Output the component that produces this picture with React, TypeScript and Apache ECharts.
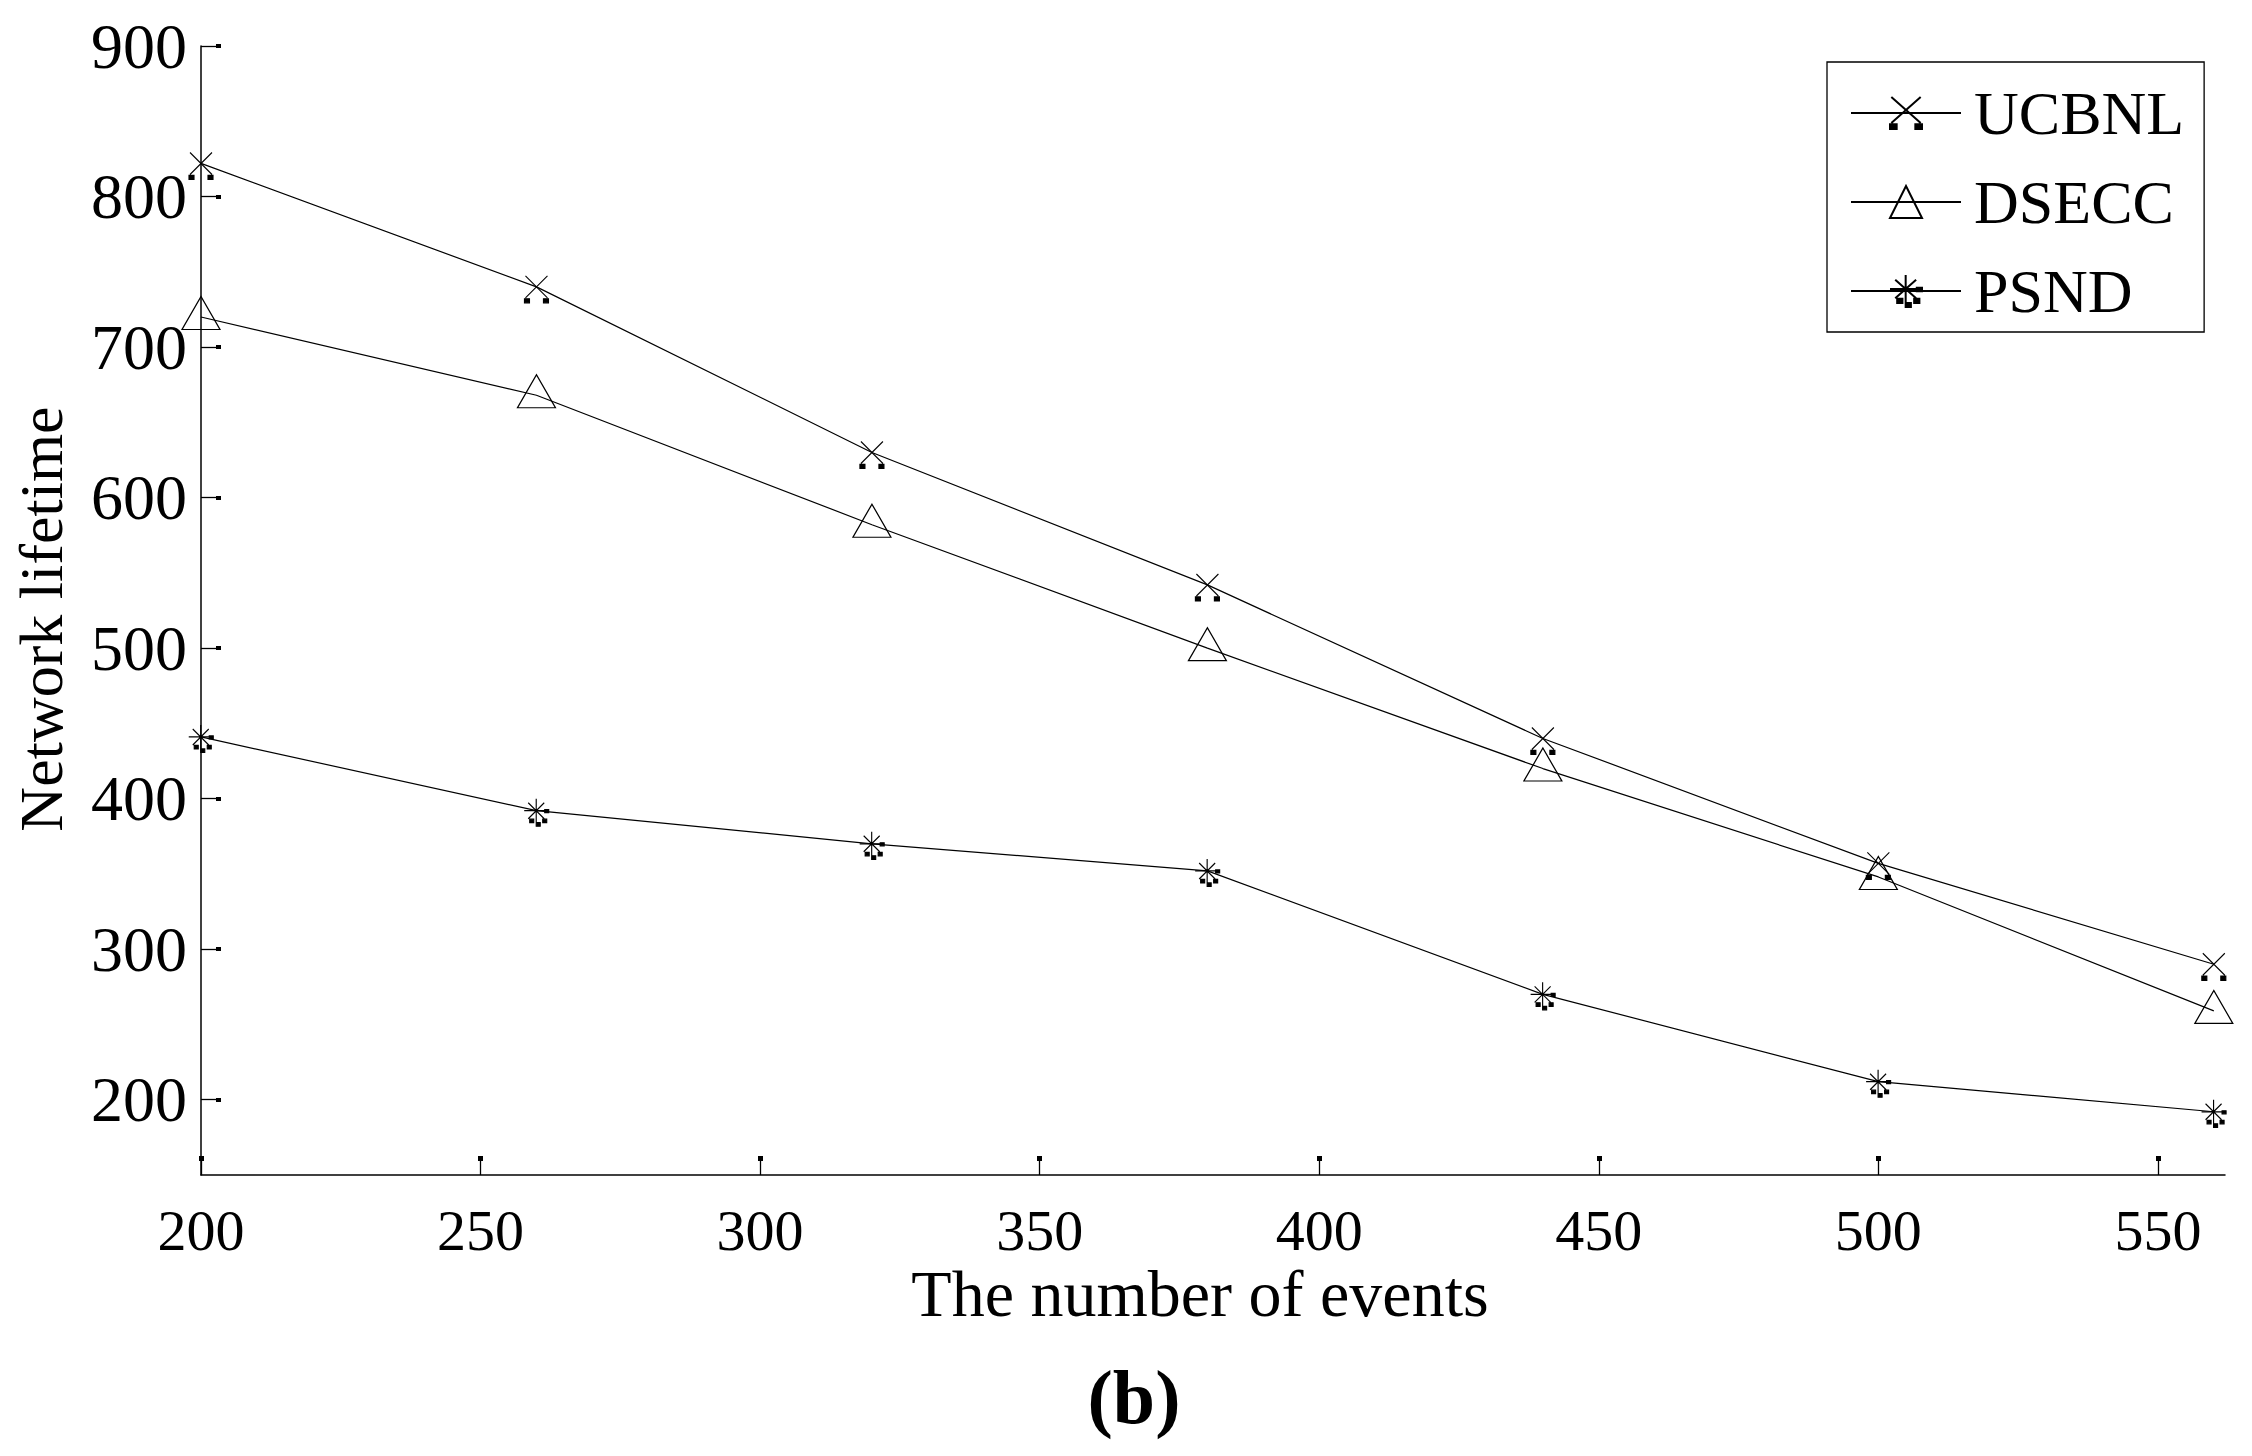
import React, { useEffect, useRef } from 'react';
import * as echarts from 'echarts';

// ---- data ----
const events = [200, 260, 320, 380, 440, 500, 560];
const ucbnl = [822, 740, 630, 542, 440, 357, 290];
const dsecc = [720, 668, 582, 500, 420, 348, 259];
const psnd = [441, 392, 370, 352, 270, 212, 192];
const seriesNames = ['UCBNL', 'DSECC', 'PSND'];
const xTicks = [200, 250, 300, 350, 400, 450, 500, 550];
const yTicks = [200, 300, 400, 500, 600, 700, 800, 900];
const xTitle = 'The number of events';
const yTitle = 'Network lifetime';
const panelLabel = '(b)';

const FONT = '"Liberation Serif", "Times New Roman", serif';

// marker shapes (with the small square artifacts of the original rendering)
const CROSS = 'path://M1,0L23,22M23,0L1,22M0,23h5v4h-5zM19,23h5v4h-5z';
const ASTER =
  'path://M0,12L24,12M12,0L12,24M4,4L20,20M20,4L4,20M5.5,20.5h4v3.5h-4zM12,24h4v3.5h-4zM18.5,20.5h4v3.5h-4zM20.5,11h4v3h-4z';

const pairs = (vals: number[]) => events.map((x, i) => [x, vals[i]]);

const X_MIN = 200;
const X_MAX = 562;
const Y_MIN = 150;
const Y_MAX = 900;

function buildOption(): any {
  const lineStyle = { color: '#000', width: 1.2 };
  return {
    animation: false,
    backgroundColor: '#fff',
    grid: { left: 201, top: 46, right: 27, bottom: 281, outerBoundsMode: 'none', containLabel: false },
    xAxis: [
      {
        type: 'value',
        min: X_MIN,
        max: X_MAX,
        axisLine: { show: true, lineStyle: { color: '#000', width: 1.5 } },
        axisTick: { show: true, inside: true, length: 18, lineStyle: { color: '#000', width: 1.3 }, customValues: xTicks },
        axisLabel: {
          show: true,
          customValues: xTicks,
          margin: 27,
          fontSize: 58,
          lineHeight: 56,
          fontFamily: FONT,
          color: '#000',
        },
        splitLine: { show: false },
      },
      {
        type: 'value',
        min: X_MIN,
        max: X_MAX,
        position: 'bottom',
        offset: -14,
        axisLine: { show: false },
        axisTick: { show: true, inside: true, length: 5, lineStyle: { color: '#000', width: 5 }, customValues: xTicks },
        axisLabel: { show: false },
        splitLine: { show: false },
      },
    ],
    yAxis: [
      {
        type: 'value',
        min: Y_MIN,
        max: Y_MAX,
        axisLine: { show: true, lineStyle: { color: '#000', width: 1.5 } },
        axisTick: { show: true, inside: true, length: 20, lineStyle: { color: '#000', width: 1.3 }, customValues: yTicks },
        axisLabel: {
          show: true,
          customValues: yTicks,
          margin: 14,
          fontSize: 64,
          fontFamily: FONT,
          color: '#000',
        },
        splitLine: { show: false },
      },
      {
        type: 'value',
        min: Y_MIN,
        max: Y_MAX,
        position: 'left',
        offset: -15,
        axisLine: { show: false },
        axisTick: { show: true, inside: true, length: 5, lineStyle: { color: '#000', width: 4 }, customValues: yTicks },
        axisLabel: { show: false },
        splitLine: { show: false },
      },
    ],
    legend: {
      orient: 'vertical',
      left: 1827,
      top: 62,
      data: seriesNames,
      borderColor: '#000',
      borderWidth: 1.3,
      borderRadius: 0,
      backgroundColor: '#fff',
      padding: [20, 20, 10, 23],
      itemWidth: 110,
      itemHeight: 40,
      itemGap: 27,
      textStyle: { fontSize: 62, lineHeight: 62, fontFamily: FONT, color: '#000', padding: [0, 0, 0, 8] },
    },
    series: [
      {
        name: seriesNames[0],
        type: 'line',
        data: pairs(ucbnl),
        symbol: CROSS,
        symbolSize: [24, 27],
        symbolOffset: [0, 2.5],
        showAllSymbol: true,
        lineStyle,
        itemStyle: { color: '#000', borderColor: '#000', borderWidth: 1.2 },
        emphasis: { disabled: true },
      },
      {
        name: seriesNames[1],
        type: 'line',
        data: pairs(dsecc),
        symbol: 'triangle',
        symbolSize: [38, 33],
        symbolOffset: [0, -4],
        showAllSymbol: true,
        lineStyle,
        itemStyle: { color: 'transparent', borderColor: '#000', borderWidth: 1.2 },
        emphasis: { disabled: true },
      },
      {
        name: seriesNames[2],
        type: 'line',
        data: pairs(psnd),
        symbol: ASTER,
        symbolSize: [24.5, 27.5],
        symbolOffset: [0, 1.75],
        showAllSymbol: true,
        lineStyle,
        itemStyle: { color: '#000', borderColor: '#000', borderWidth: 1.2 },
        emphasis: { disabled: true },
      },
    ],
    graphic: [
      {
        type: 'text',
        x: 41,
        y: 619,
        rotation: Math.PI / 2,
        style: {
          text: yTitle,
          fontSize: 62,
          fontFamily: FONT,
          fill: '#000',
          align: 'center',
          verticalAlign: 'middle',
        },
      },
      {
        type: 'text',
        x: 1200,
        y: 1293,
        style: {
          text: xTitle,
          fontSize: 66,
          lineHeight: 60,
          fontFamily: FONT,
          fill: '#000',
          align: 'center',
          verticalAlign: 'middle',
        },
      },
      {
        type: 'text',
        x: 1134,
        y: 1397,
        style: {
          text: panelLabel,
          fontSize: 76,
          fontWeight: 'bold',
          fontFamily: FONT,
          fill: '#000',
          align: 'center',
          verticalAlign: 'middle',
        },
      },
    ],
  };
}

export default function App() {
  const ref = useRef<HTMLDivElement>(null);
  useEffect(() => {
    if (!ref.current) return;
    const chart = echarts.init(ref.current, null, { renderer: 'svg' });
    chart.setOption(buildOption());
    return () => chart.dispose();
  }, []);
  return (
    <div
      ref={ref}
      style={{ position: 'absolute', left: 0, top: 0, width: 2252, height: 1456, background: '#fff' }}
    />
  );
}
